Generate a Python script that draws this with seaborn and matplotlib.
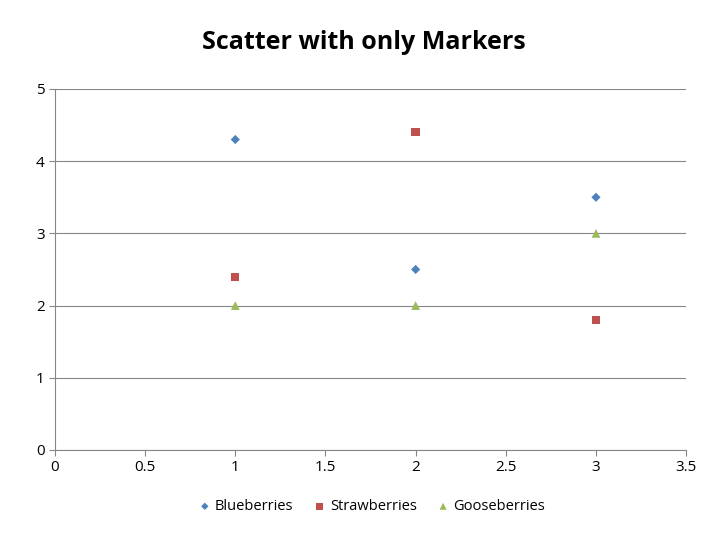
import matplotlib
matplotlib.use("Agg")
import matplotlib.pyplot as plt
import seaborn as sns
import pandas as pd

x = [1, 2, 3]
blueberries = [4.3, 2.5, 3.5]
strawberries = [2.4, 4.4, 1.8]
gooseberries = [2.0, 2.0, 3.0]
series = ["Blueberries", "Strawberries", "Gooseberries"]

df = pd.DataFrame({
    "x": x * 3,
    "y": blueberries + strawberries + gooseberries,
    "s": [s for s in series for _ in x],
})

sns.set_style("white")
plt.rcParams["font.family"] = ["Open Sans", "DejaVu Sans"]

fig = plt.figure(figsize=(7.28, 5.46), dpi=100)
ax = fig.add_axes([0.0755, 0.176, 0.867, 0.661])
palette = {"Blueberries": "#4F81BD", "Strawberries": "#C0504D", "Gooseberries": "#9BBB59"}
markers = {"Blueberries": "D", "Strawberries": "s", "Gooseberries": "^"}
sizes = {"Blueberries": 22, "Strawberries": 36, "Gooseberries": 40}
for s in series:
    d = df[df.s == s]
    sns.scatterplot(data=d, x="x", y="y", color=palette[s], marker=markers[s],
                    s=sizes[s], edgecolor="none", ax=ax, label=s, zorder=3)

ax.set_xlim(0, 3.5)
ax.set_ylim(0, 5)
ax.set_xticks([0, 0.5, 1, 1.5, 2, 2.5, 3, 3.5])
ax.set_xticklabels(["0", "0.5", "1", "1.5", "2", "2.5", "3", "3.5"])
ax.set_yticks([0, 1, 2, 3, 4, 5])
ax.yaxis.grid(True, color="#868686", lw=0.8)
ax.xaxis.grid(False)
for side in ["top", "right"]:
    ax.spines[side].set_visible(False)
for side in ["left", "bottom"]:
    ax.spines[side].set_color("#868686")
ax.tick_params(axis="both", labelsize=11, labelcolor="black", length=4, direction="out",
               bottom=True, left=True, color="#868686")
ax.set_xlabel("")
ax.set_ylabel("")
fig.suptitle("Scatter with only Markers", y=0.945, fontsize=18, fontweight="bold", color="black")
ax.legend(loc="upper center", bbox_to_anchor=(0.5, -0.1), ncol=3, frameon=False,
          fontsize=10.5, handletextpad=0.1, columnspacing=1.2, markerscale=0.8,
          handlelength=1.2, labelcolor="black")
fig.savefig("out.png", dpi=100)
